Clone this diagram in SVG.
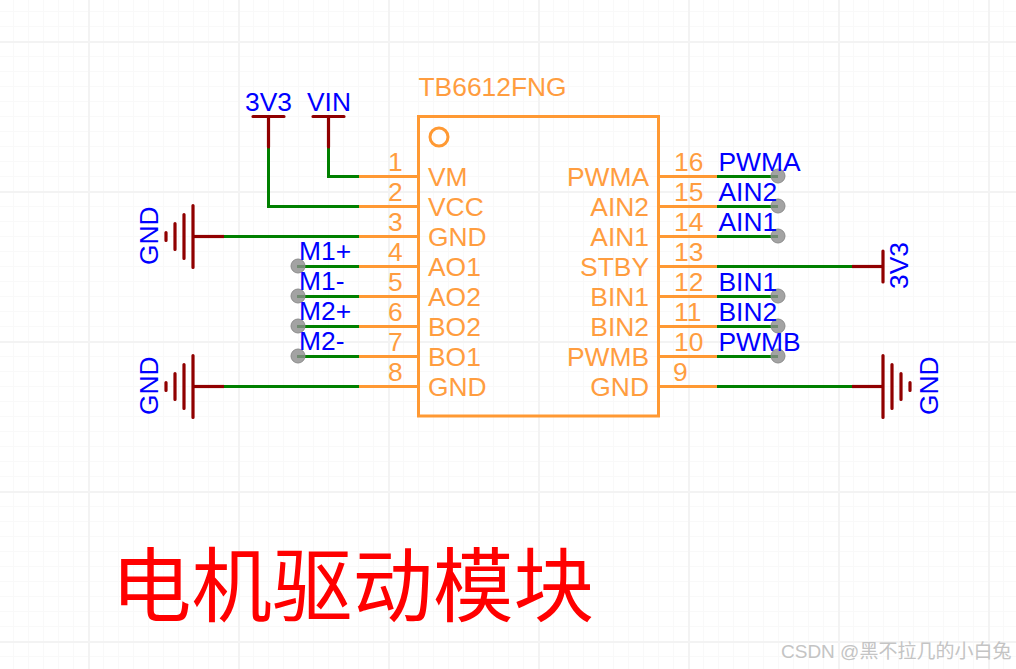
<svg xmlns="http://www.w3.org/2000/svg" width="1016" height="669" viewBox="0 0 1016 669">
<style>
text{font-family:"Liberation Sans",Arial,sans-serif;font-size:26.4px}
.o{fill:#ff9d3f}.b{fill:#0000ff}
.pin{stroke:#ff9933;stroke-width:3;fill:none}
.w{stroke:#008000;stroke-width:3;fill:none}
.s{stroke:#900000;stroke-width:3.2;fill:none;stroke-linecap:round}
.st{stroke:#900000;stroke-width:3.2;fill:none}
.gm{stroke:#f9f9f9;stroke-width:1;fill:none}
.gM{stroke:#f3f3f3;stroke-width:2;fill:none}
.e{text-anchor:end}
.dot{fill:#8c8c8c;fill-opacity:.8;stroke:#8c8c8c;stroke-width:1}
</style>
<defs>
<pattern id="minor" width="15" height="15" patternUnits="userSpaceOnUse" x="-1" y="-3"><path d="M14.5 0V15M0 14.5H15" class="gm"/></pattern>
<g id="gndL"><path class="st" d="M71 0H40"/><path class="s" d="M40-31V31M31-22V22M22-13V13M13-4V4"/></g>
<g id="nc"><circle r="7" class="dot"/></g>
</defs>
<rect width="1016" height="669" fill="#fff"/>
<rect width="1016" height="669" fill="url(#minor)"/>
<path class="gM" d="M89 0V669M239 0V669M389 0V669M539 0V669M689 0V669M839 0V669M989 0V669M0 42H1016M0 192H1016M0 342H1016M0 492H1016M0 642H1016"/>
<g id="connectors">
<path class="pin" d="M359 176.5H419M359 206.5H419M359 236.5H419M359 266.5H419M359 296.5H419M359 326.5H419M359 356.5H419M359 386.5H419M658 176.5H717M658 206.5H717M658 236.5H717M658 266.5H717M658 296.5H717M658 326.5H717M658 356.5H717M658 386.5H717"/>
<path class="w" d="M328.5 147V176.5H359M268.5 147V206.5H359M224 236.5H359M297 266.5H359M297 296.5H359M297 326.5H359M297 356.5H359M224 386.5H359M717 176.5H778M717 206.5H778M717 236.5H778M717 266.5H852M717 296.5H778M717 326.5H778M717 356.5H778M717 386.5H852"/>
</g>
<g id="U1">
<rect x="418.5" y="116.5" width="240" height="299.5" fill="none" stroke="#ff9933" stroke-width="3"/>
<circle cx="439" cy="137" r="9" fill="none" stroke="#ff9933" stroke-width="3"/>
<text class="o" x="418.5" y="96">TB6612FNG</text>
<g class="o">
<text x="428" y="186">VM</text><text x="428" y="216">VCC</text><text x="428" y="246">GND</text><text x="428" y="276">AO1</text><text x="428" y="306">AO2</text><text x="428" y="336">BO2</text><text x="428" y="366">BO1</text><text x="428" y="396">GND</text>
<text class="e" x="649" y="186">PWMA</text><text class="e" x="649" y="216">AIN2</text><text class="e" x="649" y="246">AIN1</text><text class="e" x="649" y="276">STBY</text><text class="e" x="649" y="306">BIN1</text><text class="e" x="649" y="336">BIN2</text><text class="e" x="649" y="366">PWMB</text><text class="e" x="649" y="396">GND</text>
<text x="388" y="171">1</text><text x="388" y="201">2</text><text x="388" y="231">3</text><text x="388" y="261">4</text><text x="388" y="291">5</text><text x="388" y="321">6</text><text x="388" y="351">7</text><text x="388" y="381">8</text>
<text x="674" y="171">16</text><text x="674" y="201">15</text><text x="674" y="231">14</text><text x="674" y="261">13</text><text x="674" y="291">12</text><text x="674" y="321">11</text><text x="674" y="351">10</text><text x="673" y="381">9</text>
</g>
</g>
<g id="pwr-3v3-top"><path class="s" d="M253 116.5H284M268.5 116.5V147"/><text class="b" x="245" y="111">3V3</text></g>
<g id="pwr-vin"><path class="s" d="M313 116.5H344M328.5 116.5V147"/><text class="b" x="307" y="111">VIN</text></g>
<g id="gnd-1"><use href="#gndL" transform="translate(153 236.5)"/><text class="b" transform="translate(158 265) rotate(-90)">GND</text></g>
<g id="gnd-2"><use href="#gndL" transform="translate(153 386.5)"/><text class="b" transform="translate(158 415) rotate(-90)">GND</text></g>
<g id="gnd-3"><use href="#gndL" transform="translate(923 386.5) scale(-1 1)"/><text class="b" transform="translate(938 415) rotate(-90)">GND</text></g>
<g id="pwr-3v3-right"><path class="st" d="M852 266.5H883"/><path class="s" d="M883 251V282"/><text class="b" transform="translate(908 289) rotate(-90)">3V3</text></g>
<g id="nets-left">
<use href="#nc" x="298" y="266"/><use href="#nc" x="298" y="296"/><use href="#nc" x="298" y="326"/><use href="#nc" x="298" y="356"/>
<g class="b"><text x="299" y="260">M1+</text><text x="299" y="290">M1-</text><text x="299" y="320">M2+</text><text x="299" y="350">M2-</text></g>
</g>
<g id="nets-right">
<use href="#nc" x="778" y="176"/><use href="#nc" x="778" y="206"/><use href="#nc" x="778" y="236"/><use href="#nc" x="778" y="296"/><use href="#nc" x="778" y="326"/><use href="#nc" x="778" y="356"/>
<g class="b"><text x="718.5" y="170.5">PWMA</text><text x="718.5" y="200.5">AIN2</text><text x="718.5" y="230.5">AIN1</text><text x="718.5" y="290.5">BIN1</text><text x="718.5" y="320.5">BIN2</text><text x="718.5" y="350.5">PWMB</text></g>
</g>
<text id="title" x="111" y="615" style="font-family:'Noto Sans CJK SC','Liberation Sans',sans-serif;font-size:80.5px" fill="#ff0000">电机驱动模块</text>
<text id="watermark" x="781" y="658" style="font-family:'Liberation Sans','Noto Sans CJK SC',sans-serif;font-size:19px" fill="#c4c4c4">CSDN @黑不拉几的小白兔</text>
</svg>
